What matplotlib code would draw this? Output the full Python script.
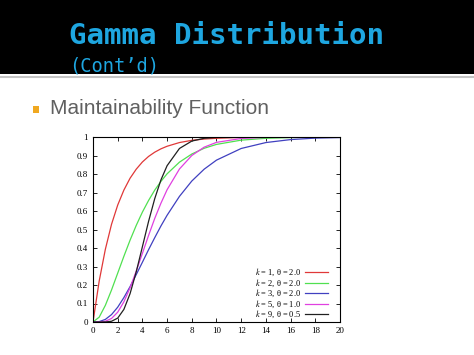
import matplotlib
matplotlib.use("Agg")
import matplotlib.pyplot as plt
from matplotlib.patches import Rectangle
from matplotlib.lines import Line2D

# ---- data ----
x_vals = [0, 0.5, 1, 1.5, 2, 2.5, 3, 3.5, 4, 4.5, 5, 5.5, 6, 7, 8, 9, 10, 12, 14, 16, 18, 20]
k1_t2 = [0, 0.221, 0.393, 0.528, 0.632, 0.713, 0.777, 0.826, 0.865, 0.895, 0.918, 0.936, 0.950,
         0.970, 0.982, 0.989, 0.993, 0.998, 0.999, 1.0, 1.0, 1.0]
k2_t2 = [0, 0.026, 0.090, 0.173, 0.264, 0.355, 0.442, 0.522, 0.594, 0.657, 0.713, 0.760, 0.801,
         0.864, 0.908, 0.939, 0.960, 0.983, 0.993, 0.997, 0.999, 1.0]
k3_t2 = [0, 0.002, 0.014, 0.040, 0.080, 0.132, 0.191, 0.256, 0.323, 0.391, 0.456, 0.519, 0.577,
         0.679, 0.762, 0.826, 0.875, 0.938, 0.970, 0.986, 0.994, 0.997]
k5_t1 = [0, 0.0002, 0.004, 0.019, 0.053, 0.109, 0.185, 0.275, 0.371, 0.468, 0.560, 0.642, 0.715,
         0.827, 0.900, 0.945, 0.971, 0.992, 0.998, 1.0, 1.0, 1.0]
k9_t05 = [0, 0, 0.0002, 0.004, 0.021, 0.068, 0.153, 0.271, 0.407, 0.544, 0.667, 0.768, 0.845,
          0.938, 0.978, 0.993, 0.998, 1.0, 1.0, 1.0, 1.0, 1.0]
series = [k1_t2, k2_t2, k3_t2, k5_t1, k9_t05]
labels = [r"$k$ = 1, θ = 2.0", r"$k$ = 2, θ = 2.0", r"$k$ = 3, θ = 2.0",
          r"$k$ = 5, θ = 1.0", r"$k$ = 9, θ = 0.5"]
colors = ["#e03838", "#50e050", "#4040c0", "#e040e0", "#202020"]
x_ticks = list(range(0, 21, 2))
y_ticks = [0, 0.1, 0.2, 0.3, 0.4, 0.5, 0.6, 0.7, 0.8, 0.9, 1]
y_ticklabels = ["0", "0.1", "0.2", "0.3", "0.4", "0.5", "0.6", "0.7", "0.8", "0.9", "1"]

plt.rcParams["mathtext.fontset"] = "stix"

W, H = 474, 355
fig = plt.figure(figsize=(W / 100, H / 100), dpi=100)
fig.patch.set_facecolor("white")

def fx(px):
    return px / W

def fy(py):
    return 1 - py / H

# header band
fig.patches.append(Rectangle((0, fy(74)), 1, 74 / H, transform=fig.transFigure,
                             facecolor="black", edgecolor="none", zorder=0))
fig.add_artist(Line2D([0, 1], [fy(77), fy(77)], transform=fig.transFigure,
                      color="#c4c4c4", lw=1.5))

fig.text(fx(69), fy(44), "Gamma Distribution", color="#1ea6e0",
         family="DejaVu Sans Mono", fontweight="bold", fontsize=21, va="baseline")
fig.text(fx(69), fy(71), "(Cont\u2019d)", color="#1ea6e0",
         family="DejaVu Sans Mono", fontsize=13.5, va="baseline")

# bullet
fig.patches.append(Rectangle((fx(33), fy(113)), 6 / W, 7 / H, transform=fig.transFigure,
                             facecolor="#f0a820", edgecolor="none"))
fig.text(fx(50), fy(114), "Maintainability Function", color="#606060",
         family="Liberation Sans", fontsize=15, va="baseline")

# chart
ax = fig.add_axes([fx(93), fy(322), (340 - 93) / W, (322 - 137) / H])
for ys, lab, c in zip(series, labels, colors):
    ax.plot(x_vals, ys, color=c, lw=0.9, label=lab)

ax.set_xlim(0, 20)
ax.set_ylim(0, 1)
ax.set_xticks(x_ticks)
ax.set_xticklabels([str(t) for t in x_ticks])
ax.set_yticks(y_ticks)
ax.set_yticklabels(y_ticklabels)
ax.tick_params(direction="in", top=True, right=True, length=3, width=0.6,
               labelsize=6.5, pad=3.5)
for lab in ax.get_xticklabels() + ax.get_yticklabels():
    lab.set_family("Liberation Serif")
for s in ax.spines.values():
    s.set_linewidth(0.8)

leg = ax.legend(loc="lower right", bbox_to_anchor=(0.96, 0.0), frameon=False,
                markerfirst=False,
                prop={"family": "Liberation Serif", "size": 6.0},
                handlelength=2.8, labelspacing=-0.1, borderaxespad=0.0,
                borderpad=0.2, handletextpad=0.45)
for t in leg.get_texts():
    t.set_ha("right")

fig.savefig("out.png", dpi=100)
